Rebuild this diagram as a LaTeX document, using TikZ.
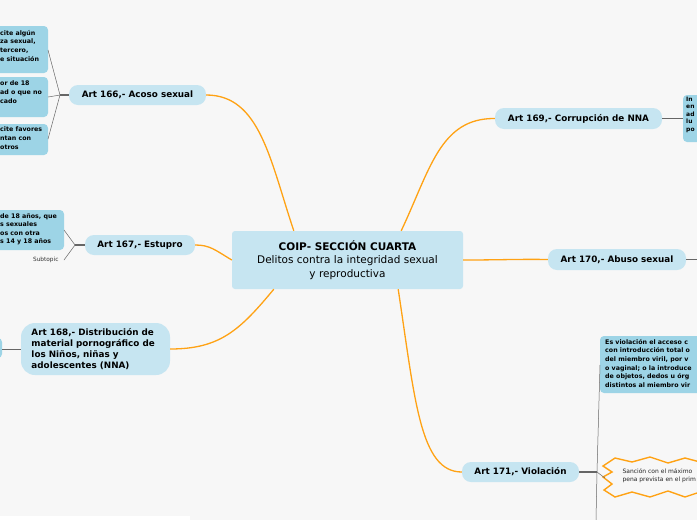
\documentclass[tikz,border=0pt]{standalone}
\usepackage{fontspec}
\setmainfont{DejaVu Sans}
\begin{document}
\begin{tikzpicture}[x=1pt,y=-1pt,
 main/.style={fill=topic,rounded corners=9pt,font=\bfseries\fontsize{8.8}{10}\selectfont,text=black,inner sep=0pt},
 leaf/.style={fill=leafc,rounded corners=4pt},
 lt/.style={font=\bfseries\fontsize{6.3}{8.6}\selectfont,align=left,inner sep=0pt,anchor=north west,text=black},
 oc/.style={draw=orange1,line width=1.3pt},
 gl/.style={draw=gray!80!black,line width=0.5pt}]
\definecolor{topic}{HTML}{C6E5F1}
\definecolor{leafc}{HTML}{9DD4E6}
\definecolor{orange1}{HTML}{FFA214}
\useasboundingbox (0,0) rectangle (697,520);
\clip (0,0) rectangle (697,520);
\fill[white!97!black] (0,0) rectangle (697,520);
% center
\node[fill=topic,rounded corners=3pt,minimum width=231pt,minimum height=58pt,align=center,font=\fontsize{10.5}{13.5}\selectfont] (c) at (347.5,260) {\textbf{COIP- SECCIÓN CUARTA}\\Delitos contra la integridad sexual\\y reproductiva};
% main topics
\node[main,minimum width=137pt,minimum height=20pt] (a166) at (137.5,95) {Art 166,- Acoso sexual};
\node[main,minimum width=110pt,minimum height=20pt] (a167) at (140,245) {Art 167,- Estupro};
\node[main,minimum width=149pt,minimum height=52pt,rounded corners=14pt,align=left,font=\bfseries\fontsize{8.8}{11.2}\selectfont] (a168) at (95.5,349) {Art 168,- Distribución de\\material pornográfico de\\los Niños, niñas y\\adolescentes (NNA)\hspace*{30pt}};
\node[main,minimum width=167pt,minimum height=21pt] (a169) at (578.5,118.5) {Art 169,- Corrupción de NNA};
\node[main,minimum width=138pt,minimum height=21pt] (a170) at (617,259.5) {Art 170,- Abuso sexual};
\node[main,minimum width=117pt,minimum height=20pt] (a171) at (520.5,472) {Art 171,- Violación};
% orange connectors
\draw[oc] (c.north west)++(62,0) .. controls (270,160) and (260,95) .. (a166.east);
\draw[oc] (c.west) .. controls (215,250) and (210,245) .. (a167.east);
\draw[oc] (c.south west)++(42,0) .. controls (240,330) and (220,349) .. (a168.east);
\draw[oc] (c.north east)++(-62,0) .. controls (430,170) and (440,118) .. (a169.west);
\draw[oc] (c.east) .. controls (500,260) and (520,259) .. (a170.west);
\draw[oc] (c.south east)++(-65,0) .. controls (415,400) and (420,472) .. (a171.west);
% leaves 166
\fill[leaf] (-10,26) rectangle (48,73);
\node[lt] (l1) at (0,30) {cite algún\\za sexual,\\ tercero,\\e situación};
\fill[leaf] (-10,77) rectangle (48,117);
\node[lt] (l2) at (0,81) {or de 18\\ad o que no\\cado};
\fill[leaf] (-10,124) rectangle (48,155);
\node[lt] (l3) at (0,127) {cite favores\\ntan con\\otros};
\coordinate (j166) at (60,95);
\draw[gl,line width=1.2pt] (a166.west) -- (j166);
\draw[gl] (j166) -- (48,50);
\draw[gl] (j166) -- (48,97);
\draw[gl] (j166) -- (48,139);
% leaves 167
\fill[leaf] (-10,210) rectangle (64,250);
\node[lt] (l4) at (0,213) {de 18 años, que\\s sexuales\\os con otra\\s 14 y 18 años};
\coordinate (j167) at (75,245);
\draw[gl,line width=1.2pt] (a167.west) -- (j167);
\draw[gl] (j167) -- (64,230);
\draw[gl] (j167) -- (64,260);
\node[font=\fontsize{5.8}{6}\selectfont,text=black!80,anchor=east] (sub) at (62,260) {Subtopic};
% leaf 168
\fill[leaf] (-10,338) rectangle (2,358);
\coordinate (l5) at (2,349);
\draw[gl,line width=0.8pt] (a168.west) -- (l5);
% leaf 169
\fill[leaf] (683,95) rectangle (710,142);
\node[lt,font=\bfseries\fontsize{6}{7.4}\selectfont] (l6) at (686,97) {In\\en\\ad\\lu\\po};
\draw[gl,line width=1pt] (a169.east) -- (683,118.5);
% 170
\coordinate (e170) at (700,259.5);
\draw[gl,line width=1.2pt] (a170.east) -- (e170);
% leaf 171
\fill[leaf] (600,336) rectangle (710,393);
\node[lt,font=\bfseries\fontsize{6.3}{8.6}\selectfont] (l7) at (605,339) {Es violación el acceso c\\con introducción total o\\del miembro viril, por v\\o vaginal; o la introduce\\de objetos, dedos u órg\\distintos al miembro vir};
\draw[orange1,line width=1.4pt,fill=white!97!black] (603,466) -- (615,458) -- (632,462) -- (650,457) -- (668,463) -- (685,458) -- (700,462) -- (700,492) -- (685,497) -- (668,491) -- (650,497) -- (632,492) -- (615,497) -- (604,490) -- (612,484) -- (603,477) -- (612,472) -- cycle;
\node[anchor=west,font=\fontsize{6}{8}\selectfont,align=left,text=black!85] (star) at (619,476) {Sanción con el máximo\\pena prevista en el prim};
\coordinate (j171) at (597,472);
\coordinate (down171) at (596,520);
\draw[gl,line width=1.2pt] (a171.east) -- (j171);
\draw[gl] (j171) -- (600,365);
\draw[gl] (j171) -- (605,478);
\draw[gl] (j171) -- (down171);
\fill[white] (0,516) rectangle (190,521);
\end{tikzpicture}
\end{document}
